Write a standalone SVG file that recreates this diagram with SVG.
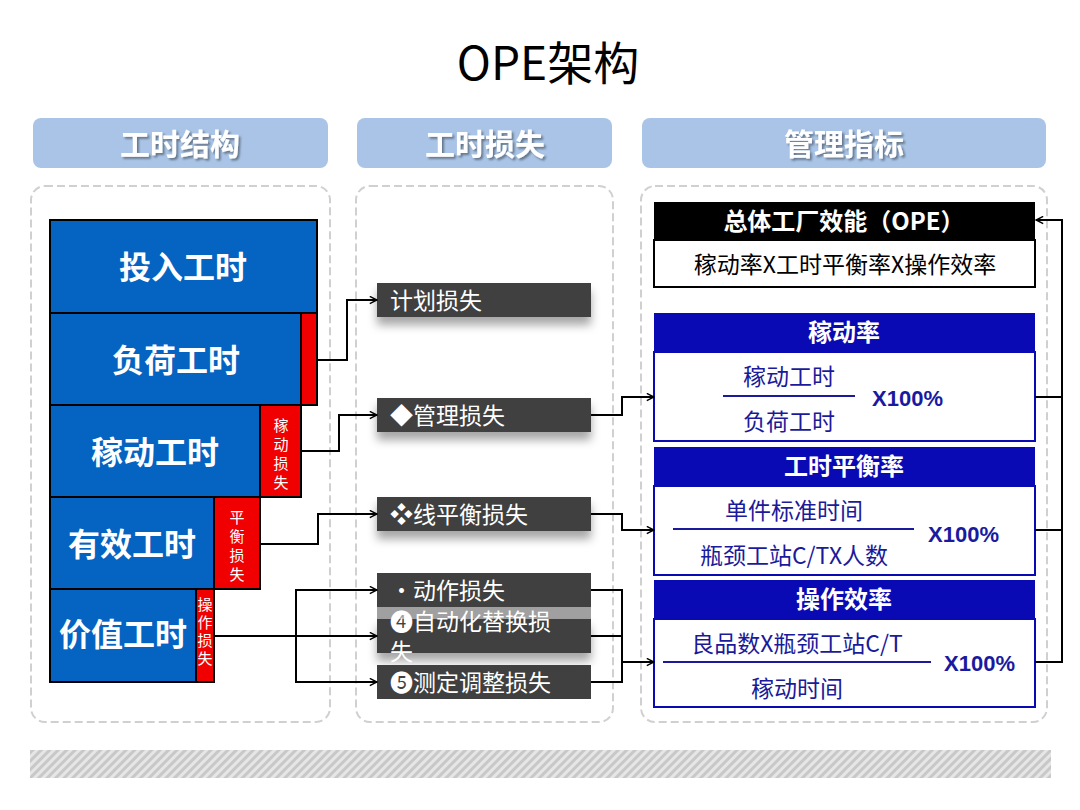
<svg xmlns="http://www.w3.org/2000/svg" width="1080" height="810" viewBox="0 0 1080 810">
<defs>
<pattern id="hatch" width="6" height="6" patternUnits="userSpaceOnUse" patternTransform="rotate(45)"><rect width="6" height="6" fill="#e6e6e6"/><rect width="3" height="6" fill="#c8c8c8"/></pattern>
<marker id="arr" viewBox="0 0 10 10" refX="9" refY="5" markerWidth="9" markerHeight="9" markerUnits="userSpaceOnUse" orient="auto"><path d="M1,1 L9,5 L1,9" fill="none" stroke="#000" stroke-width="1.6"/></marker>
<filter id="sh" x="-10%" y="-30%" width="130%" height="200%"><feDropShadow dx="0" dy="8" stdDeviation="5" flood-color="#000" flood-opacity="0.35"/></filter>
<filter id="ts"><feDropShadow dx="2" dy="2" stdDeviation="1" flood-color="#000" flood-opacity="0.4"/></filter>
</defs>
<style>
text{font-family:"Noto Sans CJK SC","Liberation Sans",sans-serif}
.hd{fill:#a9c4e6}
.ht{fill:#fff;font-size:30px;font-weight:bold;text-anchor:middle}
.panel{fill:none;stroke:#d0d0d0;stroke-width:2;stroke-dasharray:8 4}
.blu{fill:#0563c1;stroke:#000;stroke-width:2}
.red{fill:#f00000;stroke:#000;stroke-width:2}
.bt{fill:#fff;font-weight:bold;font-size:32px;text-anchor:middle}
.rt{fill:#fff;font-size:15px;text-anchor:middle}
.loss{fill:#404040}
.lt{fill:#fff;font-size:23px}
.c{fill:none;stroke:#000;stroke-width:2}
.bh{fill:#0a0ab4}
.bb{fill:#fff;stroke:#0a0ab4;stroke-width:2}
.wt{fill:#fff;font-size:24px;font-weight:bold;text-anchor:middle}
.ft{fill:#1a1a9a;font-size:23px;text-anchor:middle}
.x{fill:#1a1aa0;font-size:22px;font-weight:bold;font-family:"Liberation Sans",sans-serif}
</style>
<rect width="1080" height="810" fill="#fff"/>
<text x="548" y="80" font-size="46" text-anchor="middle" fill="#000">OPE架构</text>
<g id="headers">
<rect class="hd" x="33" y="118" width="295" height="50" rx="8"/><text class="ht" x="180" y="155" filter="url(#ts)">工时结构</text>
<rect class="hd" x="357" y="118" width="255" height="50" rx="8"/><text class="ht" x="485" y="155" filter="url(#ts)">工时损失</text>
<rect class="hd" x="642" y="118" width="404" height="50" rx="8"/><text class="ht" x="844" y="155" filter="url(#ts)">管理指标</text>
</g>
<g id="panels">
<rect class="panel" x="31" y="186" width="299" height="536" rx="14"/>
<rect class="panel" x="356" y="186" width="257" height="536" rx="14"/>
<rect class="panel" x="641" y="186" width="406" height="536" rx="14"/>
</g>
<g id="structure">
<rect class="blu" x="50" y="220" width="267" height="93"/><text class="bt" x="183" y="279">投入工时</text>
<rect class="blu" x="50" y="313" width="251" height="92"/><text class="bt" x="176" y="372">负荷工时</text>
<rect class="red" x="301" y="313" width="16" height="92"/>
<rect class="blu" x="50" y="405" width="210" height="92"/><text class="bt" x="155" y="464">稼动工时</text>
<rect class="red" x="260" y="405" width="41" height="92"/><text class="rt"><tspan x="281" y="431">稼</tspan><tspan x="281" y="450">动</tspan><tspan x="281" y="469">损</tspan><tspan x="281" y="488">失</tspan></text>
<rect class="blu" x="50" y="497" width="164" height="92"/><text class="bt" x="132" y="556">有效工时</text>
<rect class="red" x="214" y="497" width="46" height="92"/><text class="rt"><tspan x="237" y="523">平</tspan><tspan x="237" y="542">衡</tspan><tspan x="237" y="561">损</tspan><tspan x="237" y="580">失</tspan></text>
<rect class="blu" x="50" y="589" width="146" height="93"/><text class="bt" x="123" y="646" font-size="27">价值工时</text>
<rect class="red" x="196" y="589" width="18" height="93"/><text class="rt" font-size="11"><tspan x="205" y="610">操</tspan><tspan x="205" y="628">作</tspan><tspan x="205" y="646">损</tspan><tspan x="205" y="664">失</tspan></text>
</g>
<g id="losses">
<rect class="loss" x="377" y="283" width="214" height="34" filter="url(#sh)"/><text class="lt" x="390" y="309">计划损失</text>
<rect class="loss" x="377" y="398" width="214" height="34" filter="url(#sh)"/><text class="lt" x="390" y="424">◆管理损失</text>
<rect class="loss" x="377" y="497" width="214" height="34" filter="url(#sh)"/><text class="lt" x="390" y="523">❖线平衡损失</text>
<rect x="377" y="607" width="214" height="12" fill="#a0a0a0"/>
<rect class="loss" x="377" y="573" width="214" height="34"/>
<rect class="loss" x="377" y="619" width="214" height="34" filter="url(#sh)"/>
<rect class="loss" x="377" y="665" width="214" height="34"/>
<text class="lt" x="390" y="599">•动作损失</text>
<text class="lt" x="390" y="630">❹自动化替换损</text><text class="lt" x="390" y="660">失</text>
<text class="lt" x="390" y="691">❺测定调整损失</text>
</g>
<g id="metrics">
<rect x="654" y="202" width="381" height="38" fill="#000"/><text class="wt" x="844" y="230" font-size="22">总体工厂效能（OPE）</text>
<rect x="654" y="240" width="381" height="47" fill="#fff" stroke="#000" stroke-width="2"/><text x="845" y="273" font-size="23" text-anchor="middle" fill="#000">稼动率X工时平衡率X操作效率</text>
<rect class="bh" x="654" y="313" width="381" height="39"/><text class="wt" x="844" y="341">稼动率</text>
<rect class="bb" x="654" y="352" width="381" height="89"/>
<text class="ft" x="789" y="385">稼动工时</text><line x1="723" y1="396" x2="855" y2="396" stroke="#1a1a9a" stroke-width="2"/><text class="ft" x="789" y="430">负荷工时</text><text class="x" x="872" y="406">X100%</text>
<rect class="bh" x="654" y="447" width="381" height="39"/><text class="wt" x="844" y="475">工时平衡率</text>
<rect class="bb" x="654" y="486" width="381" height="89"/>
<text class="ft" x="794" y="519">单件标准时间</text><line x1="673" y1="529" x2="914" y2="529" stroke="#1a1a9a" stroke-width="2"/><text class="ft" x="794" y="564">瓶颈工站C/TX人数</text><text class="x" x="928" y="542">X100%</text>
<rect class="bh" x="654" y="580" width="381" height="39"/><text class="wt" x="844" y="608">操作效率</text>
<rect class="bb" x="654" y="619" width="381" height="88"/>
<text class="ft" x="797" y="652">良品数X瓶颈工站C/T</text><line x1="663" y1="662" x2="931" y2="662" stroke="#1a1a9a" stroke-width="2"/><text class="ft" x="797" y="697">稼动时间</text><text class="x" x="944" y="671">X100%</text>
</g>
<g id="connectors">
<polyline class="c" points="317,360 347,360 347,300 377,300" marker-end="url(#arr)"/>
<polyline class="c" points="301,451 339,451 339,415 377,415" marker-end="url(#arr)"/>
<polyline class="c" points="260,544 318,544 318,514 377,514" marker-end="url(#arr)"/>
<line class="c" x1="214" y1="636" x2="377" y2="636" marker-end="url(#arr)"/>
<polyline class="c" points="296,636 296,590 377,590" marker-end="url(#arr)"/>
<polyline class="c" points="296,636 296,682 377,682" marker-end="url(#arr)"/>
<polyline class="c" points="591,415 622,415 622,397 654,397" marker-end="url(#arr)"/>
<polyline class="c" points="591,514 622,514 622,530 654,530" marker-end="url(#arr)"/>
<polyline class="c" points="591,590 622,590 622,682 591,682"/>
<line class="c" x1="591" y1="636" x2="622" y2="636"/>
<line class="c" x1="622" y1="662" x2="654" y2="662" marker-end="url(#arr)"/>
<line class="c" x1="1035" y1="397" x2="1062" y2="397"/>
<line class="c" x1="1035" y1="530" x2="1062" y2="530"/>
<polyline class="c" points="1035,662 1062,662 1062,220 1036,220" marker-end="url(#arr)"/>
</g>
<rect x="30" y="750" width="1021" height="28" fill="url(#hatch)"/>
</svg>
